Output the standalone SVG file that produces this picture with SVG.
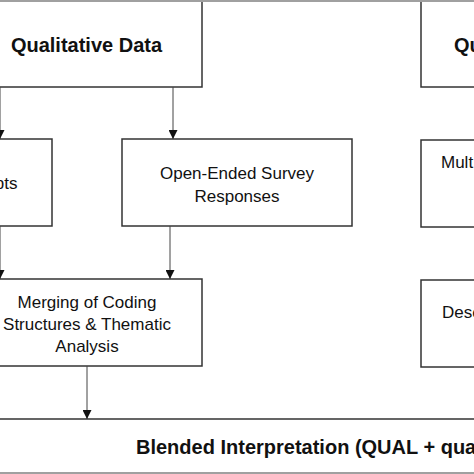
<svg xmlns="http://www.w3.org/2000/svg" width="474" height="474" viewBox="0 0 474 474">
<style>
.box{fill:#fff;stroke:#333;stroke-width:1.5}
.conn{stroke:#444;stroke-width:1;fill:none;marker-end:url(#ah)}
.b{font-family:"Liberation Sans",Arial,sans-serif;font-weight:bold;font-size:20px;fill:#111}
.r{font-family:"Liberation Sans",Arial,sans-serif;font-size:17px;fill:#111}
.band{fill:#a0a0a0}
</style>
<defs>
<marker id="ah" viewBox="0 0 10 10" refX="10" refY="5" markerWidth="9" markerHeight="9" markerUnits="userSpaceOnUse" orient="auto">
<path d="M0,0 L10,5 L0,10 Z" fill="#111"/>
</marker>
</defs>
<rect width="474" height="474" fill="#fff"/>
<g id="qual-data">
<rect class="box" x="-29" y="1" width="231" height="86"/>
<text class="b" x="86.5" y="52" text-anchor="middle">Qualitative Data</text>
</g>
<g id="quan-data">
<rect class="box" x="421" y="1" width="231" height="86"/>
<text class="b" x="454" y="52">Qu</text>
</g>
<g id="transcripts">
<rect class="box" x="-178" y="139" width="230" height="87"/>
<text class="r" x="17.5" y="189" text-anchor="end">pts</text>
</g>
<g id="open-ended">
<rect class="box" x="122" y="139" width="230" height="87"/>
<text class="r" x="237" y="179" text-anchor="middle">Open-Ended Survey</text>
<text class="r" x="237" y="201.5" text-anchor="middle">Responses</text>
</g>
<g id="mult">
<rect class="box" x="421" y="140" width="230" height="87"/>
<text class="r" x="441" y="168">Mult</text>
</g>
<g id="merging">
<rect class="box" x="-28" y="279" width="230" height="87"/>
<text class="r" x="87" y="308" text-anchor="middle">Merging of Coding</text>
<text class="r" x="87" y="330" text-anchor="middle">Structures &amp; Thematic</text>
<text class="r" x="87" y="352" text-anchor="middle">Analysis</text>
</g>
<g id="desc">
<rect class="box" x="421" y="280" width="230" height="87"/>
<text class="r" x="442" y="318">Desc</text>
</g>
<g id="blended">
<rect class="box" x="-10" y="419" width="500" height="60"/>
<text class="b" x="136" y="454">Blended Interpretation (QUAL + quan</text>
</g>
<g id="connectors">
<line class="conn" x1="173" y1="87" x2="173" y2="139"/>
<line class="conn" x1="0" y1="87" x2="0" y2="139"/>
<line class="conn" x1="170" y1="226" x2="170" y2="279"/>
<line class="conn" x1="0" y1="226" x2="0" y2="279"/>
<line class="conn" x1="87" y1="366" x2="87" y2="419"/>
</g>
<rect class="band" x="0" y="0" width="474" height="2"/>
<rect class="band" x="0" y="472" width="474" height="2"/>
</svg>
